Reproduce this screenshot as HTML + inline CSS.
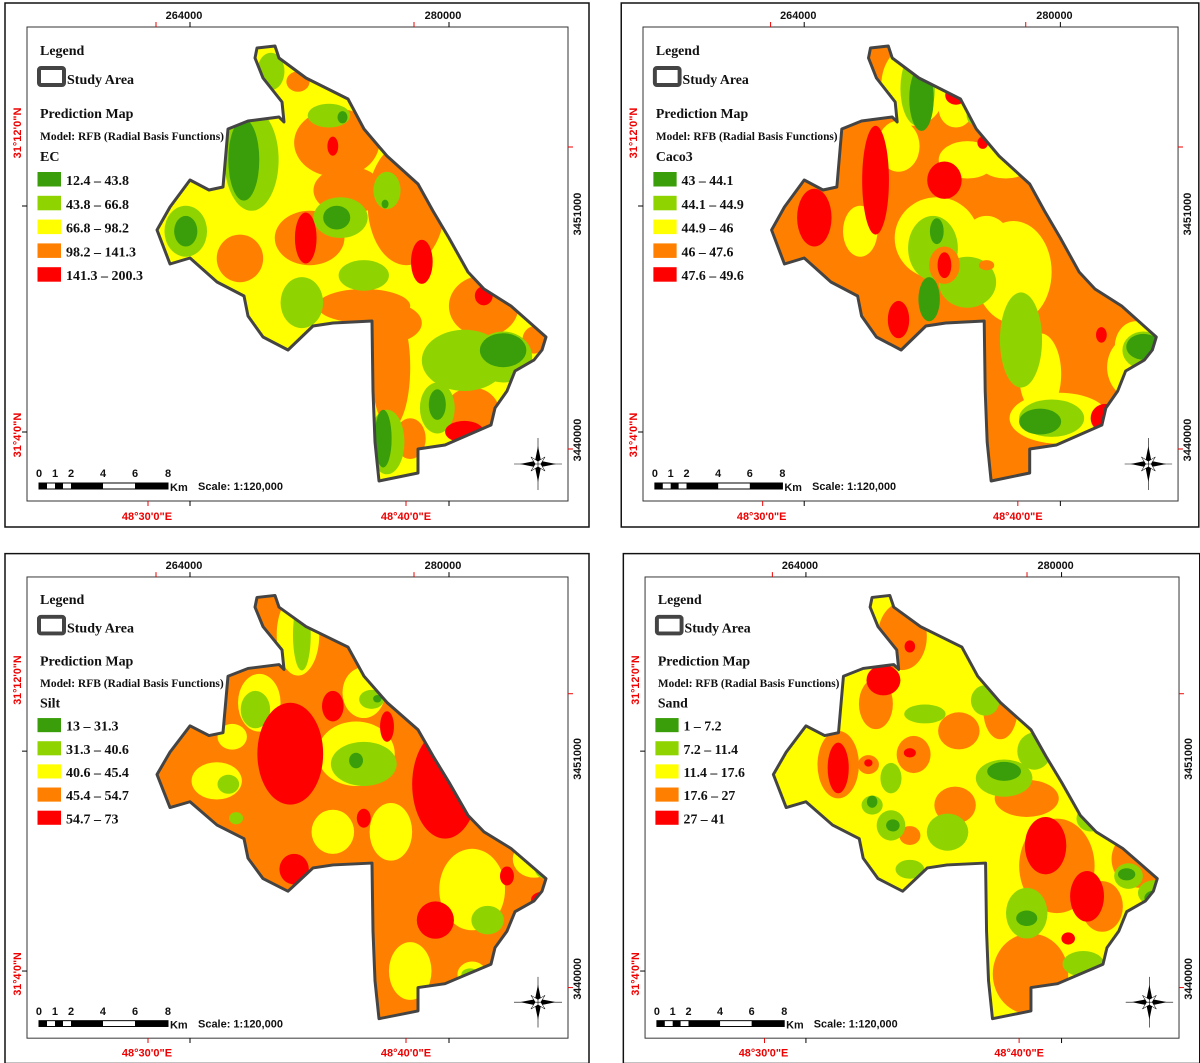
<!DOCTYPE html>
<html><head><meta charset="utf-8"><style>
html,body{margin:0;padding:0;background:#fff;}
svg{display:block;}
.lt{font-family:"Liberation Serif",serif;font-weight:bold;fill:#111;}
.ax{font-family:"Liberation Sans",sans-serif;font-weight:bold;font-size:11px;}
</style></head><body>
<svg id="root" width="1200" height="1063" viewBox="0 0 1200 1063" xmlns="http://www.w3.org/2000/svg"></svg>
<script>
const NS="http://www.w3.org/2000/svg";
const COL={DG:"#3a9e0a",LG:"#8fd400",Y:"#ffff00",O:"#ff8000",R:"#ff0000"};
const panelTitles=["EC","Caco3","Silt","Sand"];
const legendEC=["12.4 – 43.8","43.8 – 66.8","66.8 – 98.2","98.2 – 141.3","141.3 – 200.3"];
const legendCaco3=["43 – 44.1","44.1 – 44.9","44.9 – 46","46 – 47.6","47.6 – 49.6"];
const legendSilt=["13 – 31.3","31.3 – 40.6","40.6 – 45.4","45.4 – 54.7","54.7 – 73"];
const legendSand=["1 – 7.2","7.2 – 11.4","11.4 – 17.6","17.6 – 27","27 – 41"];
const topTicks=["264000","280000"];
const bottomTicks=["48°30'0\"E","48°40'0\"E"];
const leftTicks=["31°12'0\"N","31°4'0\"N"];
const rightTicks=["3451000","3440000"];
const scaleLabels=["0","1","2","4","6","8"];
const poly=[[257,48],[275,46],[279,58],[306,78],[348,99],[364,129],[387,156],[418,184],[433,211],[449,238],[468,272],[484,289],[511,306],[546,337],[542,350],[534,360],[515,371],[507,391],[495,408],[491,425],[445,445],[418,449],[418,473],[379,481],[375,442],[373,391],[372,321],[333,323],[313,326],[288,350],[263,337],[248,316],[244,296],[217,282],[190,258],[170,264],[157,230],[170,207],[190,180],[209,190],[223,187],[228,129],[248,121],[279,117],[284,122],[282,102],[263,78],[255,58]];
const blobsEC=[["O",870,420,110,100],["O",1050,600,100,180],["O",800,700,90,80],["O",900,560,90,70],["O",620,760,60,70],["O",940,900,120,50],["O",1000,950,90,60],["O",1010,1080,50,180],["O",1250,900,90,90],["O",1220,1210,70,70],["O",770,240,30,30],["O",1380,1000,30,40],["O",1060,1290,40,60],
["LG",650,470,70,150],["LG",700,210,35,55],["LG",850,340,55,35],["LG",880,640,70,60],["LG",940,810,65,45],["LG",780,890,55,75],["LG",480,680,55,75],["LG",1000,560,35,55],["LG",1200,1060,110,90],["LG",1130,1200,45,75],["LG",1000,1300,45,95],["LG",1300,1050,75,75],
["DG",630,470,40,120],["DG",870,640,35,35],["DG",480,680,30,45],["DG",1300,1030,60,50],["DG",1130,1190,22,45],["DG",990,1290,22,85],["DG",885,345,13,18],["DG",995,600,9,13],
["R",790,700,28,75],["R",1090,770,28,65],["R",860,430,14,28],["R",1250,870,23,28],["R",1200,1270,50,32]];
const blobsCaco3=[["Y",820,250,85,120],["Y",780,430,55,75],["Y",960,470,75,55],["Y",1060,470,75,55],["Y",680,680,45,75],["Y",880,700,110,120],["Y",1080,800,100,150],["Y",1010,720,65,85],["Y",1150,1100,55,120],["Y",1200,1230,130,75],["Y",1400,1080,75,95],["Y",930,320,45,55],["Y",1400,1020,55,75],
["LG",830,260,45,110],["LG",870,730,65,95],["LG",960,830,75,75],["LG",1100,1000,55,140],["LG",1180,1230,85,55],["LG",1420,1030,55,55],["LG",980,340,22,28],
["DG",840,290,32,95],["DG",860,880,28,65],["DG",880,680,18,38],["DG",1150,1240,55,38],["DG",1420,1020,45,38],
["O",900,780,40,55],["O",1010,780,20,15],
["R",560,640,45,85],["R",720,530,35,160],["R",900,530,45,55],["R",930,280,28,28],["R",1000,420,14,18],["R",900,780,18,38],["R",780,940,28,55],["R",1320,1230,38,42],["R",1310,985,14,23],["R",1145,1385,14,14]];
const blobsSilt=[["Y",770,300,55,120],["Y",670,500,55,85],["Y",560,730,65,55],["Y",940,470,55,75],["Y",920,650,100,95],["Y",860,880,55,65],["Y",1010,880,55,85],["Y",1220,1050,85,120],["Y",1060,1290,55,85],["Y",1380,960,55,55],["Y",1220,1300,38,38],["Y",600,600,38,38],
["LG",660,520,38,55],["LG",780,300,23,105],["LG",940,680,85,65],["LG",960,490,32,28],["LG",590,740,28,28],["LG",1260,1140,42,42],["LG",1410,990,28,28],["LG",1215,1300,23,18],["LG",760,650,14,14],["LG",610,840,18,18],
["DG",920,670,18,23],["DG",975,488,11,11],
["R",750,650,85,150],["R",860,510,28,45],["R",1150,740,85,160],["R",1000,570,18,45],["R",940,840,18,28],["R",760,990,38,45],["R",1125,1140,48,55],["R",1310,1010,18,28],["R",1400,1080,28,23]];
const blobsSand=[["O",770,300,65,100],["O",700,500,45,75],["O",600,680,55,100],["O",920,580,55,55],["O",800,650,45,55],["O",910,800,55,55],["O",1030,520,45,85],["O",1100,780,85,55],["O",1180,980,100,140],["O",1110,1300,100,120],["O",1300,1100,55,75],["O",1400,960,75,85],["O",680,680,28,28],["O",790,890,28,28],
["LG",830,530,55,28],["LG",990,490,38,45],["LG",740,720,28,45],["LG",690,800,28,28],["LG",740,860,38,45],["LG",890,880,55,55],["LG",1100,1120,55,75],["LG",1250,1270,55,38],["LG",1370,1010,38,38],["LG",1440,1060,45,38],["LG",1270,840,38,38],["LG",1040,720,75,55],["LG",1120,640,45,55],["LG",790,990,38,28],
["DG",1040,700,45,28],["DG",690,790,14,18],["DG",745,860,18,18],["DG",1100,1135,28,23],["DG",1365,1005,23,18],["DG",1440,1075,28,23],
["R",720,430,45,45],["R",600,690,28,75],["R",790,330,14,18],["R",1150,920,55,85],["R",1260,1070,45,75],["R",790,645,16,14],["R",680,675,11,11],["R",1210,1195,18,18]];

const panels=[
 {m:[1,1,0,0],conv:[0.387,0,0.34,0],base:"Y",blobs:blobsEC,legend:legendEC},
 {m:[0.989,1,616.3,0],conv:[0.387,-16.5,0.34,0],base:"O",blobs:blobsCaco3,legend:legendCaco3},
 {m:[1,0.973,0,550.7],conv:[0.387,0,0.349,-18.2],base:"O",blobs:blobsSilt,legend:legendSilt},
 {m:[0.987,0.973,618.4,550.7],conv:[0.382,-6.5,0.347,-16.1],base:"Y",blobs:blobsSand,legend:legendSand}
];
const root=document.getElementById('root');
function mk(tag,attrs,parent){const e=document.createElementNS(NS,tag);for(const k in attrs)e.setAttribute(k,attrs[k]);parent.appendChild(e);return e;}
const defs=mk('defs',{},root);
const ptsStr=poly.map(p=>p.join(',')).join(' ');
panels.forEach((P,i)=>{
 const g=mk('g',{transform:`matrix(${P.m[0]},0,0,${P.m[1]},${P.m[2]},${P.m[3]})`},root);
 
 
 const border=mk('rect',{x:5,y:3,width:584,height:524,fill:'#fff',stroke:'#111','stroke-width':1.5},g);
 
 
 const frame=mk('rect',{x:27,y:27,width:541,height:474,fill:'none',stroke:'#333','stroke-width':1},g);
 
 
 [190,449].forEach(x=>{mk('line',{x1:x,y1:22,x2:x,y2:27,stroke:'#000'},g);mk('line',{x1:x,y1:501,x2:x,y2:506,stroke:'#000'},g);});
 [156,414].forEach(x=>mk('line',{x1:x,y1:22,x2:x,y2:27,stroke:'#e00'},g));
 [148,406].forEach(x=>mk('line',{x1:x,y1:501,x2:x,y2:506,stroke:'#e00'},g));
 [206,432].forEach(y=>mk('line',{x1:22,y1:y,x2:27,y2:y,stroke:'#000'},g));
 [147,449].forEach(y=>mk('line',{x1:568,y1:y,x2:573,y2:y,stroke:'#e00'},g));
 [184,443].forEach((x,k)=>{const t=mk('text',{x:x,y:19,'text-anchor':'middle',class:'ax',fill:'#111'},g);t.textContent=topTicks[k];
  
  });
 [147,406].forEach((x,k)=>{const t=mk('text',{x:x,y:520,'text-anchor':'middle',class:'ax',fill:'#e00'},g);t.textContent=bottomTicks[k];
  
  });
 [133,435].forEach((y,k)=>{const t=mk('text',{x:0,y:0,'text-anchor':'middle',class:'ax',fill:'#e00',transform:`translate(21,${y}) rotate(-90)`},g);t.textContent=leftTicks[k];
  
  });
 [214,440].forEach((y,k)=>{const t=mk('text',{x:0,y:0,'text-anchor':'middle',class:'ax',fill:'#111',transform:`translate(581,${y}) rotate(-90)`},g);t.textContent=rightTicks[k];
  
  });
 const cp=mk('clipPath',{id:'clip'+i},defs);mk('polygon',{points:ptsStr},cp);
 const mg=mk('g',{'clip-path':`url(#clip${i})`},g);
 
 
 mk('polygon',{points:ptsStr,fill:COL[P.base]},mg);
 const c=P.conv;
 P.blobs.forEach(b=>{const e=mk('ellipse',{cx:b[1]*c[0]+c[1],cy:b[2]*c[2]+c[3],rx:b[3]*c[0],ry:b[4]*c[2],fill:COL[b[0]]},mg);
  
  });
 const outline=mk('polygon',{points:ptsStr,fill:'none',stroke:'#444','stroke-width':3,'stroke-linejoin':'round'},g);
 
 
 const lg=mk('g',{},g);
 
 
 let t=mk('text',{x:40,y:55,class:'lt','font-size':14},lg);t.textContent='Legend';
 mk('rect',{x:39,y:68,width:25,height:17,fill:'#fff',stroke:'#444','stroke-width':4,rx:2},lg);
 t=mk('text',{x:67,y:84,class:'lt','font-size':14},lg);t.textContent='Study Area';
 t=mk('text',{x:40,y:118,class:'lt','font-size':14},lg);t.textContent='Prediction Map';
 t=mk('text',{x:40,y:140,class:'lt','font-size':11.5},lg);t.textContent='Model: RFB (Radial Basis Functions)';
 t=mk('text',{x:40,y:161,class:'lt','font-size':14},lg);t.textContent=panelTitles[i];
 const sw=["DG","LG","Y","O","R"];
 P.legend.forEach((lab,k)=>{const y=172+k*23.8;
  const r=mk('rect',{x:37.5,y:y,width:23.5,height:14.5,fill:COL[sw[k]]},lg);
  
  
  const tt=mk('text',{x:66,y:y+13,class:'lt','font-size':14},lg);tt.textContent=lab;
  
  });
 const sb=mk('g',{},g);
 
 
 [39,55,71,103,135,168].forEach((x,k)=>{const tt=mk('text',{x:x,y:477,'text-anchor':'middle',class:'ax','font-size':10,fill:'#111'},sb);tt.textContent=scaleLabels[k];});
 mk('rect',{x:39,y:483,width:129,height:6,fill:'#fff',stroke:'#000','stroke-width':1},sb);
 [[39,47],[55,63],[71,103],[135,168]].forEach(s=>mk('rect',{x:s[0],y:483,width:s[1]-s[0],height:6,fill:'#000'},sb));
 t=mk('text',{x:170,y:491,class:'ax','font-size':11,fill:'#111'},sb);t.textContent='Km';
 t=mk('text',{x:198,y:490,class:'ax','font-size':12,fill:'#111'},sb);t.textContent='Scale: 1:120,000';
 const na=mk('g',{transform:'translate(538,464)'},g);
 
 
 mk('polygon',{points:'0,-18 3,-3 18,0 3,3 0,18 -3,3 -18,0 -3,-3',fill:'#000'},na);
 mk('polygon',{points:'0,-10 2,-2 10,0 2,2 0,10 -2,2 -10,0 -2,-2',fill:'#fff',stroke:'#000','stroke-width':0.5,transform:'rotate(45)'},na);
 mk('line',{x1:0,y1:-26,x2:0,y2:26,stroke:'#000','stroke-width':0.6},na);
 mk('line',{x1:-24,y1:0,x2:24,y2:0,stroke:'#000','stroke-width':0.6},na);
});
</script>
</body></html>
